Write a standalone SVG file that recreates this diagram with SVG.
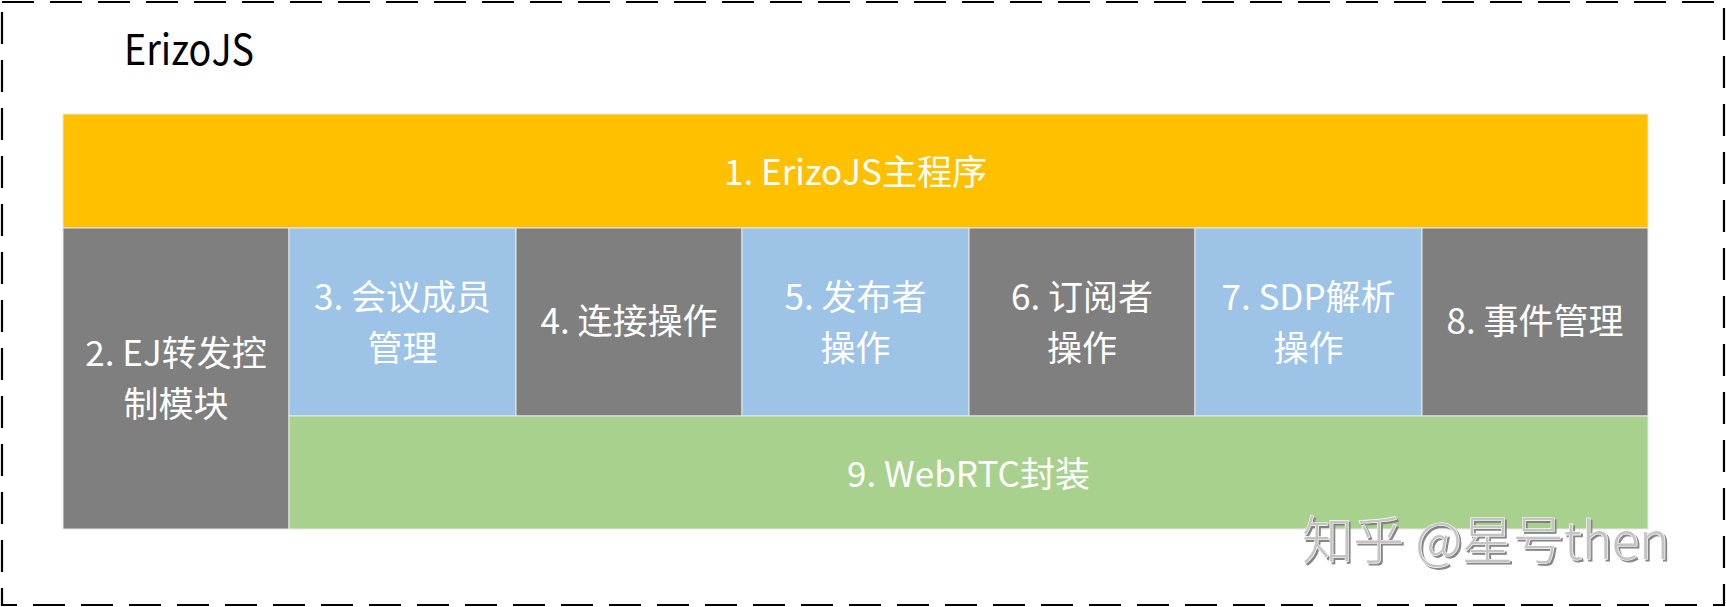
<svg xmlns="http://www.w3.org/2000/svg" width="1726" height="607" viewBox="0 0 1726 607">
<defs>
<style>
.t{font-family:"Noto Sans CJK SC","Noto Sans",sans-serif;font-size:35px;fill:#ffffff;text-anchor:middle}
.blk{stroke:#e8e8e8;stroke-width:1}
.or{fill:#FFC000}
.gr{fill:#7F7F7F}
.bl{fill:#9DC3E6}
.gn{fill:#A9D18E}
</style>
<filter id="sh" x="-5%" y="-20%" width="110%" height="140%">
<feDropShadow dx="2" dy="2" stdDeviation="0.6" flood-color="#7a7a7a" flood-opacity="0.9"/>
</filter>
</defs>
<rect width="1726" height="607" fill="#ffffff"/>
<g id="frame">
<rect x="2" y="2" width="1722" height="603" fill="none" stroke="#000" stroke-width="2.2" stroke-dasharray="32 16"/>
<text x="124" y="65" textLength="130" lengthAdjust="spacingAndGlyphs" style="font-family:'Noto Sans CJK SC','Noto Sans',sans-serif;font-size:42px;fill:#000">ErizoJS</text>
</g>
<g id="n1"><rect class="blk or" x="63" y="114" width="1585" height="114"/><text class="t" x="855.5" y="185">1. ErizoJS主程序</text></g>
<g id="n2"><rect class="blk gr" x="63" y="228" width="226" height="301"/><text class="t" x="176" y="366">2. EJ转发控</text><text class="t" x="176" y="417">制模块</text></g>
<g id="n3"><rect class="blk bl" x="289" y="228" width="227" height="188"/><text class="t" x="402.5" y="310">3. 会议成员</text><text class="t" x="402.5" y="361">管理</text></g>
<g id="n4"><rect class="blk gr" x="516" y="228" width="226" height="188"/><text class="t" x="629" y="334">4. 连接操作</text></g>
<g id="n5"><rect class="blk bl" x="742" y="228" width="227" height="188"/><text class="t" x="855.5" y="310">5. 发布者</text><text class="t" x="855.5" y="361">操作</text></g>
<g id="n6"><rect class="blk gr" x="969" y="228" width="226" height="188"/><text class="t" x="1082" y="310">6. 订阅者</text><text class="t" x="1082" y="361">操作</text></g>
<g id="n7"><rect class="blk bl" x="1195" y="228" width="227" height="188"/><text class="t" x="1308.5" y="310">7. SDP解析</text><text class="t" x="1308.5" y="361">操作</text></g>
<g id="n8"><rect class="blk gr" x="1422" y="228" width="226" height="188"/><text class="t" x="1535" y="334">8. 事件管理</text></g>
<g id="n9"><rect class="blk gn" x="289" y="416" width="1359" height="113"/><text class="t" x="968.5" y="487">9. WebRTC封装</text></g>
<g id="connectors"></g>
<g id="watermark"><text x="1302" y="559" filter="url(#sh)" style="font-family:'Noto Sans CJK SC','Noto Sans',sans-serif;font-size:51px;font-weight:300;fill:#c4c4c4;stroke:#ffffff;stroke-width:1.2;paint-order:stroke">知乎 @星号then</text></g>
</svg>
